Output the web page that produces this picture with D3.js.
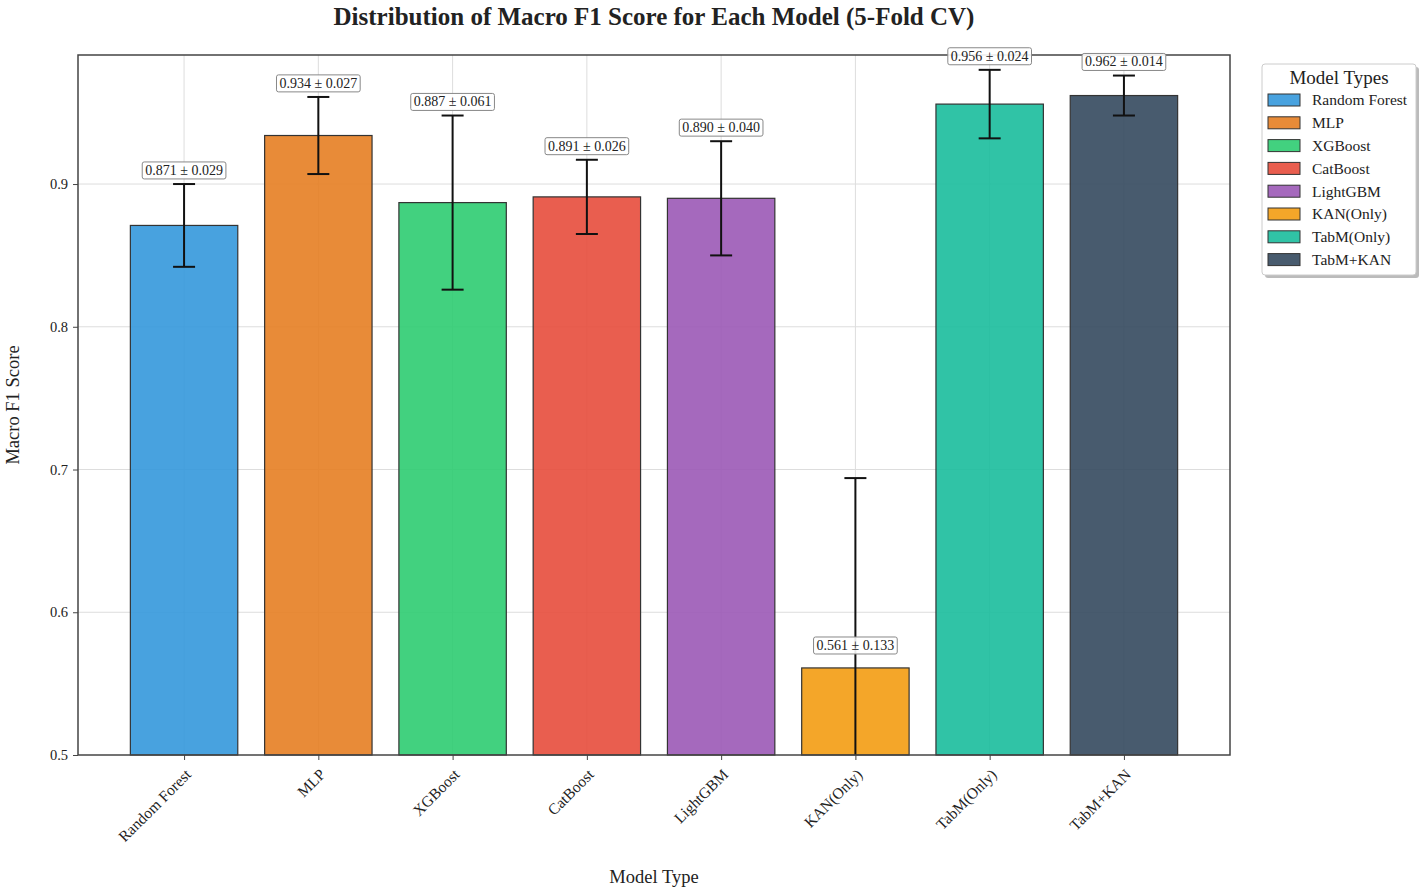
<!DOCTYPE html>
<html>
<head>
<meta charset="utf-8">
<script src="https://cdn.jsdelivr.net/npm/d3@7"></script>
<style>
  body { margin: 0; background: #fff; }
  text { font-family: "Liberation Serif", "Times New Roman", serif; fill: #222; }
  .grid line { stroke: #ddd; stroke-width: 1; }
  .axis path, .axis line { stroke: #444; }
</style>
</head>
<body>
<div id="chart"></div>
<script>
var models = ['Random Forest', 'MLP', 'XGBoost', 'CatBoost', 'LightGBM', 'KAN(Only)', 'TabM(Only)', 'TabM+KAN'];
var meanF1 = [0.871, 0.934, 0.887, 0.891, 0.890, 0.561, 0.956, 0.962];
var stdF1 = [0.029, 0.027, 0.061, 0.026, 0.040, 0.133, 0.024, 0.014];
var colors = ['#3498db', '#e67e22', '#2ecc71', '#e74c3c', '#9b59b6', '#f39c12', '#1abc9c', '#34495e'];
var yTicks = [0.5, 0.6, 0.7, 0.8, 0.9];

var width = 1425, height = 893,
    margins = {top: 55, left: 78, right: 195, bottom: 138};

var svg = d3.select('#chart').append('svg')
  .attr('width', width)
  .attr('height', height);

var x = d3.scaleLinear()
  .domain([-0.79, models.length - 1 + 0.79])
  .range([margins.left, width - margins.right]);

var y = d3.scaleLinear()
  .domain([0.5, 0.9904])
  .range([height - margins.bottom, margins.top]);

var barW = x(0.8) - x(0);

// grid
var gridG = svg.append('g').attr('class', 'grid');
gridG.selectAll('line.h')
  .data(yTicks.slice(1))
  .enter().append('line')
  .attr('x1', x.range()[0]).attr('x2', x.range()[1])
  .attr('y1', function (d) { return y(d); })
  .attr('y2', function (d) { return y(d); });
gridG.selectAll('line.v')
  .data(d3.range(models.length))
  .enter().append('line')
  .attr('y1', y.range()[0]).attr('y2', y.range()[1])
  .attr('x1', function (i) { return x(i); })
  .attr('x2', function (i) { return x(i); });

// bars
svg.append('g').selectAll('rect')
  .data(meanF1)
  .enter().append('rect')
  .attr('x', function (d, i) { return x(i) - barW / 2; })
  .attr('y', function (d) { return y(d); })
  .attr('width', barW)
  .attr('height', function (d) { return y(0.5) - y(d); })
  .style('fill', function (d, i) { return colors[i]; })
  .style('fill-opacity', 0.9)
  .style('stroke', '#333')
  .style('stroke-width', 1.2);

// error bars (clipped to plot area)
svg.append('clipPath').attr('id', 'plotClip')
  .append('rect')
  .attr('x', x.range()[0]).attr('y', y.range()[1])
  .attr('width', x.range()[1] - x.range()[0])
  .attr('height', y.range()[0] - y.range()[1]);

var errG = svg.append('g').attr('clip-path', 'url(#plotClip)');
var cap = 11;
meanF1.forEach(function (m, i) {
  var cx = x(i), lo = y(m - stdF1[i]), hi = y(m + stdF1[i]);
  errG.append('line').attr('x1', cx).attr('x2', cx).attr('y1', lo).attr('y2', hi)
    .style('stroke', '#111').style('stroke-width', 2);
  [lo, hi].forEach(function (yy) {
    errG.append('line').attr('x1', cx - cap).attr('x2', cx + cap).attr('y1', yy).attr('y2', yy)
      .style('stroke', '#111').style('stroke-width', 2);
  });
});

// frame
svg.append('rect')
  .attr('x', x.range()[0]).attr('y', y.range()[1])
  .attr('width', x.range()[1] - x.range()[0])
  .attr('height', y.range()[0] - y.range()[1])
  .style('fill', 'none').style('stroke', '#444').style('stroke-width', 1.5);

// axes
var yAxis = d3.axisLeft(y).tickValues(yTicks).tickFormat(d3.format('.1f')).tickSize(5).tickSizeOuter(0);
var yG = svg.append('g').attr('class', 'axis')
  .attr('transform', 'translate(' + x.range()[0] + ',0)')
  .call(yAxis);
yG.select('.domain').remove();
yG.selectAll('text').style('font-size', '14.5px').attr('dx', '-2');

var xAxis = d3.axisBottom(x).tickValues(d3.range(models.length))
  .tickFormat(function (i) { return models[i]; }).tickSize(5).tickSizeOuter(0);
var xG = svg.append('g').attr('class', 'axis')
  .attr('transform', 'translate(0,' + y.range()[0] + ')')
  .call(xAxis);
xG.select('.domain').remove();
xG.selectAll('text')
  .style('font-size', '15.5px')
  .style('text-anchor', 'end')
  .attr('dy', '0.35em')
  .attr('transform', 'translate(-2,11) rotate(-45)');

// value labels
meanF1.forEach(function (m, i) {
  var s = stdF1[i];
  // labels sit above the upper cap, except very wide spreads sit just above the bar
  var ly = s > 0.1 ? y(m + 0.016) : y(m + s + 0.0098);
  var g = svg.append('g').attr('transform', 'translate(' + x(i) + ',' + ly + ')');
  var t = g.append('text')
    .attr('text-anchor', 'middle').attr('dy', '0.35em')
    .style('font-size', '14px')
    .text(m.toFixed(3) + ' \u00b1 ' + s.toFixed(3));
  var bb = t.node().getBBox();
  g.insert('rect', 'text')
    .attr('x', bb.x - 3).attr('y', bb.y - 1)
    .attr('width', bb.width + 6).attr('height', bb.height + 2)
    .attr('rx', 2)
    .style('fill', '#fff').style('fill-opacity', 0.9)
    .style('stroke', '#888').style('stroke-width', 1);
});

// titles
svg.append('text')
  .attr('x', (x.range()[0] + x.range()[1]) / 2).attr('y', 25)
  .attr('text-anchor', 'middle')
  .style('font-size', '25px').style('font-weight', 'bold')
  .text('Distribution of Macro F1 Score for Each Model (5-Fold CV)');

svg.append('text')
  .attr('x', (x.range()[0] + x.range()[1]) / 2).attr('y', 883)
  .attr('text-anchor', 'middle')
  .style('font-size', '18.5px')
  .text('Model Type');

svg.append('text')
  .attr('transform', 'translate(19,' + (y.range()[0] + y.range()[1]) / 2 + ') rotate(-90)')
  .attr('text-anchor', 'middle')
  .style('font-size', '18.5px')
  .text('Macro F1 Score');

// legend
var lx = 1262, ly0 = 64, lw = 154, lh = 211;
svg.append('rect')
  .attr('x', lx + 3).attr('y', ly0 + 3).attr('width', lw).attr('height', lh)
  .attr('rx', 3).style('fill', '#bbb');
svg.append('rect')
  .attr('x', lx).attr('y', ly0).attr('width', lw).attr('height', lh)
  .attr('rx', 3).style('fill', '#fff').style('stroke', '#ccc');
svg.append('text')
  .attr('x', lx + lw / 2).attr('y', ly0 + 20)
  .attr('text-anchor', 'middle')
  .style('font-size', '19px')
  .text('Model Types');
var legG = svg.append('g').selectAll('g')
  .data(models)
  .enter().append('g')
  .attr('transform', function (d, i) { return 'translate(' + (lx + 6) + ',' + (ly0 + 36 + i * 22.8) + ')'; });
legG.append('rect')
  .attr('x', 0).attr('y', -6).attr('width', 32).attr('height', 12)
  .style('fill', function (d, i) { return colors[i]; })
  .style('fill-opacity', 0.9)
  .style('stroke', '#333').style('stroke-width', 1);
legG.append('text')
  .attr('x', 44).attr('dy', '0.35em')
  .style('font-size', '15.5px')
  .text(function (d) { return d; });
</script>
</body>
</html>
